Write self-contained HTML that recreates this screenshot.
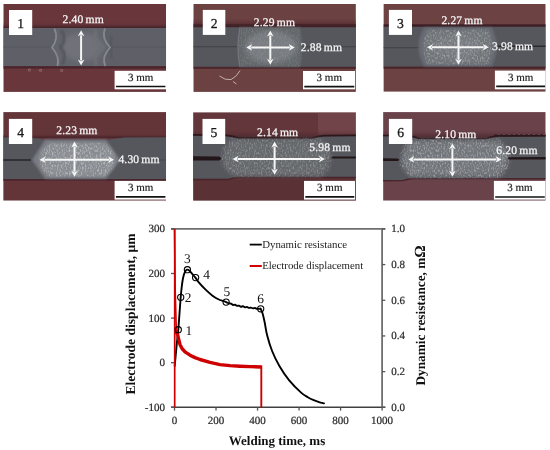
<!DOCTYPE html>
<html><head><meta charset="utf-8"><title>Weld nugget growth and dynamic resistance</title>
<style>html,body{margin:0;padding:0;background:#fff;width:550px;height:450px;overflow:hidden}svg{display:block}</style>
</head><body>
<svg width="550" height="450" viewBox="0 0 550 450" font-family="'Liberation Serif', 'Times New Roman', serif" text-rendering="geometricPrecision">
<rect width="550" height="450" fill="#fff"/>
<defs>
<filter id="grain" x="0" y="0" width="100%" height="100%" filterUnits="objectBoundingBox">
  <feTurbulence type="fractalNoise" baseFrequency="0.75 0.4" numOctaves="2" seed="3"/>
  <feColorMatrix type="matrix" values="0 0 0 0 0.9  0 0 0 0 0.91  0 0 0 0 0.93  3.0 0 0 0 -1.35"/>
  <feGaussianBlur stdDeviation="0.6"/>
</filter>
<filter id="soft" x="-20%" y="-20%" width="140%" height="140%">
  <feGaussianBlur stdDeviation="1.3"/>
</filter>
<filter id="soft05" x="-20%" y="-20%" width="140%" height="140%">
  <feGaussianBlur stdDeviation="0.5"/>
</filter>
<filter id="soft2" x="-20%" y="-20%" width="140%" height="140%">
  <feGaussianBlur stdDeviation="2.2"/>
</filter>
<filter id="grainD" x="0" y="0" width="100%" height="100%" filterUnits="objectBoundingBox">
  <feTurbulence type="fractalNoise" baseFrequency="0.7" numOctaves="2" seed="8"/>
  <feColorMatrix type="matrix" values="0 0 0 0 0  0 0 0 0 0  0 0 0 0 0  2.2 0 0 0 -1.05"/>
</filter>
<radialGradient id="nug2" cx="0.5" cy="0.5" r="0.5">
  <stop offset="0" stop-color="#a2a4ab"/>
  <stop offset="0.55" stop-color="#878991"/>
  <stop offset="1" stop-color="#5e5f68" stop-opacity="0"/>
</radialGradient>
<radialGradient id="nug3" cx="0.5" cy="0.5" r="0.5">
  <stop offset="0" stop-color="#a8aab1"/>
  <stop offset="0.7" stop-color="#989aa2"/>
  <stop offset="1" stop-color="#7d7f88"/>
</radialGradient>
<linearGradient id="topdark" x1="0" y1="0" x2="0" y2="1">
  <stop offset="0" stop-color="#6a363a" stop-opacity="0"/>
  <stop offset="1" stop-color="#3c1f25"/>
</linearGradient>
<clipPath id="cp0"><rect x="3.3" y="3.9" width="162.80" height="88.00"/></clipPath>
<clipPath id="cp1"><rect x="193.3" y="3.9" width="162.60" height="88.00"/></clipPath>
<clipPath id="cp2"><rect x="383.4" y="3.9" width="162.30" height="87.90"/></clipPath>
<clipPath id="cp3"><rect x="3.2" y="112.1" width="162.90" height="88.60"/></clipPath>
<clipPath id="cp4"><rect x="193.1" y="112.2" width="162.80" height="88.50"/></clipPath>
<clipPath id="cp5"><rect x="383.1" y="112.1" width="162.60" height="88.60"/></clipPath></defs>
<g clip-path="url(#cp0)"><rect x="3.3" y="3.9" width="162.79999999999998" height="88.0" fill="#69373b"/>
<rect x="3.3" y="22" width="162.79999999999998" height="6.2" fill="url(#topdark)"/>
<rect x="3.3" y="28" width="162.79999999999998" height="38.3" fill="#5f6067"/>
<rect x="3.3" y="66.2" width="162.79999999999998" height="2.4" fill="#4a262c"/>
<line x1="3.3" y1="47" x2="166.1" y2="47" stroke="#55565e" stroke-width="1"/>
<path d="M55,28.2 Q60,37 52.5,47 Q60,57 56,66.1 L104,66.1 Q100,57 110.5,47 Q100,37 105,28.2 Z" fill="#63656d"/>
<ellipse cx="82" cy="47" rx="20" ry="14" fill="#6f7179" filter="url(#soft2)"/>
<path d="M61,30 Q68,40 60,47 Q68,55 62,65" fill="none" stroke="#4e4f58" stroke-width="2.6" filter="url(#soft)" opacity="0.8"/>
<path d="M96,30 Q92,40 104,47 Q92,55 96,65" fill="none" stroke="#6e7078" stroke-width="4" filter="url(#soft)" opacity="0.8"/>
<path d="M112,36 L110,47 L112,58" fill="none" stroke="#50525c" stroke-width="3" filter="url(#soft)" opacity="0.6"/>
<g filter="url(#soft05)"><path d="M54.3,28.5 Q59,38 52,47.5 Q60,57 57.5,66" fill="none" stroke="#868890" stroke-width="1.8"/>
<path d="M105,28.5 Q101,38 110.1,47.5 Q101,57 105.4,66" fill="none" stroke="#868890" stroke-width="1.8"/></g>
<circle cx="29.4" cy="70.0" r="1.5" fill="#9a7478" opacity="0.8" filter="url(#soft05)"/><circle cx="29.4" cy="70.3" r="0.6" fill="#3c2226" opacity="0.7"/>
<circle cx="40.6" cy="70.2" r="1.5" fill="#9a7478" opacity="0.8" filter="url(#soft05)"/><circle cx="40.6" cy="70.5" r="0.6" fill="#3c2226" opacity="0.7"/>
<circle cx="61.7" cy="70.4" r="1.5" fill="#9a7478" opacity="0.8" filter="url(#soft05)"/><circle cx="61.7" cy="70.7" r="0.6" fill="#3c2226" opacity="0.7"/>
<line x1="81.1" y1="35.30" x2="81.1" y2="60.50" stroke="#f6f6f6" stroke-width="2.0"/><path d="M81.1,65.5 L77.80,59.50 L81.1,61.18 L84.40,59.50 Z" fill="#f6f6f6"/><path d="M81.1,30.3 L77.80,36.30 L81.1,34.62 L84.40,36.30 Z" fill="#f6f6f6"/>
<text x="62.6" y="22.7" font-size="11.6" fill="#f6f6f6" stroke="#f6f6f6" stroke-width="0.25" letter-spacing="0.15">2.40 <tspan dx="-1">mm</tspan></text>
<rect x="9" y="10" width="23.20" height="25.00" fill="#fff"/><text x="20.60" y="28.10" text-anchor="middle" font-size="13.6" fill="#1a1a1a" stroke="#1a1a1a" stroke-width="0.3">1</text>
<rect x="114.6" y="70.8" width="51.50" height="18.50" fill="#fff"/><line x1="115.90" y1="86.5" x2="165.40" y2="86.5" stroke="#111" stroke-width="1.7"/><text x="140.65" y="80.70" text-anchor="middle" font-size="11.0" fill="#1e1e1e" stroke="#1e1e1e" stroke-width="0.2">3 mm</text></g>
<g clip-path="url(#cp1)"><rect x="193.3" y="3.9" width="162.59999999999997" height="88.0" fill="#6b4141"/>
<rect x="193.3" y="18" width="162.59999999999997" height="9.5" fill="url(#topdark)"/>
<rect x="193.3" y="24" width="162.59999999999997" height="3.5" fill="#3c1f25" opacity="0.6"/>
<rect x="193.3" y="27.3" width="162.59999999999997" height="39.7" fill="#56565d"/>
<rect x="193.3" y="66.8" width="162.59999999999997" height="2" fill="#4a262c"/>
<line x1="193.3" y1="46.8" x2="355.9" y2="46.8" stroke="#40414a" stroke-width="1.1"/>
<path d="M240,27.5 Q236,47 240,66.8 L300,66.8 Q304,47 300,27.5 Z" fill="#64676b" filter="url(#soft)"/>
<ellipse cx="271" cy="47" rx="26" ry="16" fill="#787c80" filter="url(#soft2)"/>
<mask id="n2" maskUnits="userSpaceOnUse" x="0" y="0" width="550" height="450"><path d="M240,27.5 Q236,47 240,66.8 L300,66.8 Q304,47 300,27.5 Z" fill="#fff" filter="url(#soft)"/></mask>
<g mask="url(#n2)"><rect x="236" y="27" width="70" height="40" filter="url(#grain)" opacity="0.12"/></g>
<path d="M240,27.5 Q236,47 240,66.8" fill="none" stroke="#777982" stroke-width="1"/>
<path d="M219.5,76 Q225,80.5 231,79.6 Q237,76.5 240,70.6 M233,81.5 L236.5,84" fill="none" stroke="#e2d2d2" stroke-width="1" opacity="0.75" filter="url(#soft05)"/>
<line x1="251.20" y1="47.4" x2="289.80" y2="47.4" stroke="#f6f6f6" stroke-width="2.0"/><path d="M294.8,47.4 L288.80,44.10 L290.48,47.4 L288.80,50.70 Z" fill="#f6f6f6"/><path d="M246.2,47.4 L252.20,44.10 L250.52,47.4 L252.20,50.70 Z" fill="#f6f6f6"/>
<line x1="270.3" y1="35.40" x2="270.3" y2="59.70" stroke="#f6f6f6" stroke-width="2.0"/><path d="M270.3,64.7 L267.00,58.70 L270.3,60.38 L273.60,58.70 Z" fill="#f6f6f6"/><path d="M270.3,30.4 L267.00,36.40 L270.3,34.72 L273.60,36.40 Z" fill="#f6f6f6"/>
<text x="253.8" y="25.5" font-size="11.6" fill="#f6f6f6" stroke="#f6f6f6" stroke-width="0.25" letter-spacing="0.15">2.29 <tspan dx="-1">mm</tspan></text>
<text x="300.8" y="51.0" font-size="11.6" fill="#f6f6f6" stroke="#f6f6f6" stroke-width="0.25" letter-spacing="0.15">2.88 <tspan dx="-1">mm</tspan></text>
<rect x="202.8" y="9.9" width="22.50" height="25.00" fill="#fff"/><text x="214.05" y="28.00" text-anchor="middle" font-size="13.6" fill="#1a1a1a" stroke="#1a1a1a" stroke-width="0.3">2</text>
<rect x="303.0" y="71.0" width="52.00" height="18.30" fill="#fff"/><line x1="304.30" y1="86.7" x2="354.30" y2="86.7" stroke="#111" stroke-width="1.7"/><text x="329.30" y="80.90" text-anchor="middle" font-size="11.0" fill="#1e1e1e" stroke="#1e1e1e" stroke-width="0.2">3 mm</text></g>
<g clip-path="url(#cp2)"><rect x="383.4" y="3.9" width="162.30000000000007" height="87.89999999999999" fill="#6c4243"/>
<rect x="383.4" y="24.3" width="162.30000000000007" height="2.6" fill="#3c1f25"/>
<rect x="383.4" y="26.8" width="162.30000000000007" height="40" fill="#56565d"/>
<rect x="383.4" y="66.6" width="162.30000000000007" height="2.2" fill="#4a262c"/>
<line x1="383.4" y1="47.8" x2="420" y2="47.8" stroke="#40414a" stroke-width="1.1"/>
<line x1="498" y1="46.2" x2="545.7" y2="46.2" stroke="#2a2a30" stroke-width="1.5"/>
<path d="M424,27.5 L492,27.5 Q501,47 492,66.2 L424,66.2 Q413,47 424,27.5 Z" fill="#686a73" filter="url(#soft)"/>
<mask id="n3" maskUnits="userSpaceOnUse" x="0" y="0" width="550" height="450"><path d="M428,29 L488,29 Q496,47 488,65 L428,65 Q419,47 428,29 Z" fill="#fff" filter="url(#soft)"/></mask>
<path d="M428,30 L488,30 Q496,47 488,64 L428,64 Q419,47 428,30 Z" fill="#707478" filter="url(#soft)"/>
<ellipse cx="457" cy="47" rx="24" ry="11" fill="#787c80" filter="url(#soft2)"/>
<g mask="url(#n3)"><rect x="415" y="27" width="85" height="40" filter="url(#grain)" opacity="0.3"/></g>
<line x1="432.00" y1="47.2" x2="483.70" y2="47.2" stroke="#f6f6f6" stroke-width="2.0"/><path d="M488.7,47.2 L482.70,43.90 L484.38,47.2 L482.70,50.50 Z" fill="#f6f6f6"/><path d="M427.0,47.2 L433.00,43.90 L431.32,47.2 L433.00,50.50 Z" fill="#f6f6f6"/>
<line x1="458.5" y1="35.40" x2="458.5" y2="59.70" stroke="#f6f6f6" stroke-width="2.0"/><path d="M458.5,64.7 L455.20,58.70 L458.5,60.38 L461.80,58.70 Z" fill="#f6f6f6"/><path d="M458.5,30.4 L455.20,36.40 L458.5,34.72 L461.80,36.40 Z" fill="#f6f6f6"/>
<text x="441.4" y="23.6" font-size="11.6" fill="#f6f6f6" stroke="#f6f6f6" stroke-width="0.25" letter-spacing="0.15">2.27 <tspan dx="-1">mm</tspan></text>
<text x="492.0" y="50.4" font-size="11.6" fill="#f6f6f6" stroke="#f6f6f6" stroke-width="0.25" letter-spacing="0.15">3.98 <tspan dx="-1">mm</tspan></text>
<rect x="388.9" y="9.9" width="23.10" height="25.00" fill="#fff"/><text x="400.45" y="28.00" text-anchor="middle" font-size="13.6" fill="#1a1a1a" stroke="#1a1a1a" stroke-width="0.3">3</text>
<rect x="494.9" y="70.6" width="50.90" height="18.70" fill="#fff"/><line x1="496.20" y1="86.4" x2="545.10" y2="86.4" stroke="#111" stroke-width="1.7"/><text x="520.65" y="80.60" text-anchor="middle" font-size="11.0" fill="#1e1e1e" stroke="#1e1e1e" stroke-width="0.2">3 mm</text></g>
<g clip-path="url(#cp3)"><rect x="3.2" y="112.1" width="162.9" height="88.6" fill="#633539"/>
<path d="M3.2,133.5 L166.1,133.5 L166.1,137.8 L3.2,137.8 Z" fill="url(#topdark)"/>
<path d="M3.2,137.3 L30,137.8 L45,139.6 L110,139.6 L125,137.6 L166.1,137.3 L166.1,179 L3.2,179.3 Z" fill="#56565d"/>
<rect x="3.2" y="179" width="162.9" height="1.8" fill="#4a262c"/>
<line x1="3.2" y1="160" x2="31" y2="160" stroke="#25252a" stroke-width="1.4"/>
<line x1="120" y1="160" x2="166.1" y2="160" stroke="#474850" stroke-width="1.1"/>
<path d="M32,160 L45,139.8 L106,139.8 L120.5,160 L106,178.8 L45,178.8 Z" fill="#797b83" filter="url(#soft)"/>
<mask id="n4" maskUnits="userSpaceOnUse" x="0" y="0" width="550" height="450"><path d="M50,143 L104,143 Q115,150 114.5,159.5 Q115,169 104,176.5 L50,176.5 Q39,169 39.5,159.5 Q39,150 50,143 Z" fill="#fff" filter="url(#soft)"/></mask>
<path d="M50,143 L104,143 Q115,150 114.5,159.5 Q115,169 104,176.5 L50,176.5 Q39,169 39.5,159.5 Q39,150 50,143 Z" fill="#898d92" filter="url(#soft)"/>
<g mask="url(#n4)"><rect x="35" y="140" width="85" height="40" filter="url(#grain)" opacity="0.4"/></g>
<line x1="44.60" y1="159.8" x2="109.10" y2="159.8" stroke="#f6f6f6" stroke-width="2.0"/><path d="M114.1,159.8 L108.10,156.50 L109.78,159.8 L108.10,163.10 Z" fill="#f6f6f6"/><path d="M39.6,159.8 L45.60,156.50 L43.92,159.8 L45.60,163.10 Z" fill="#f6f6f6"/>
<line x1="74.5" y1="146.60" x2="74.5" y2="171.80" stroke="#f6f6f6" stroke-width="2.0"/><path d="M74.5,176.8 L71.20,170.80 L74.5,172.48 L77.80,170.80 Z" fill="#f6f6f6"/><path d="M74.5,141.6 L71.20,147.60 L74.5,145.92 L77.80,147.60 Z" fill="#f6f6f6"/>
<text x="56.2" y="134.0" font-size="11.6" fill="#f6f6f6" stroke="#f6f6f6" stroke-width="0.25" letter-spacing="0.15">2.23 <tspan dx="-1">mm</tspan></text>
<text x="118.4" y="162.6" font-size="11.6" fill="#f6f6f6" stroke="#f6f6f6" stroke-width="0.25" letter-spacing="0.15">4.30 <tspan dx="-1">mm</tspan></text>
<rect x="8.9" y="118.9" width="23.30" height="25.10" fill="#fff"/><text x="20.55" y="137.10" text-anchor="middle" font-size="13.6" fill="#1a1a1a" stroke="#1a1a1a" stroke-width="0.3">4</text>
<rect x="114.6" y="180.9" width="51.50" height="18.70" fill="#fff"/><line x1="115.90" y1="196.8" x2="165.40" y2="196.8" stroke="#111" stroke-width="1.7"/><text x="140.65" y="190.90" text-anchor="middle" font-size="11.0" fill="#1e1e1e" stroke="#1e1e1e" stroke-width="0.2">3 mm</text></g>
<g clip-path="url(#cp4)"><rect x="193.1" y="112.2" width="162.79999999999998" height="88.49999999999999" fill="#62363a"/>
<path d="M318,112.8 L355.9,112.8 L355.9,135 L318,135 Z" fill="#80525a" opacity="0.5"/>
<path d="M193.1,129 L355.9,129 L355.9,137 L193.1,137 Z" fill="url(#topdark)" opacity="0.6"/>
<path d="M193.1,135.6 L224,135.8 Q232,136.4 238,138.4 L312,138.7 Q318,137.1 324,136.3 L355.9,136.1 L355.9,176.9 L240,176.9 Q232,177.2 228,179.2 L193.1,179.3 Z" fill="#56565d"/>
<path d="M193.1,135.6 L224,135.8 Q232,136.4 238,138.4 L312,138.7 Q318,137.1 324,136.3 L355.9,136.1" fill="none" stroke="#2c181c" stroke-width="1.6" transform="translate(0,-0.7)"/>
<rect x="193.1" y="178" width="162.79999999999998" height="23" fill="#4e2a2e" opacity="0.35"/>
<path d="M193.1,179.8 L228,179.7 Q232,177.7 240,177.4 L355.9,177.4" fill="none" stroke="#4a262c" stroke-width="1.5"/>
<mask id="n5" maskUnits="userSpaceOnUse" x="0" y="0" width="550" height="450"><path d="M230,138.6 L322,138 Q334,150 331,158 Q334,168 322,177 L234,177 Q219,168 221,159 Q219,150 230,138.6 Z" fill="#fff" filter="url(#soft)"/></mask>
<path d="M231,140 L321,139.5 Q332,150 329,158 Q332,167 321,175.5 L235,175.5 Q222,167 223,159 Q222,150 231,140 Z" fill="#66696c" filter="url(#soft2)"/>
<g mask="url(#n5)"><rect x="215" y="136" width="125" height="45" filter="url(#grain)" opacity="0.25"/></g>
<path d="M193.1,156.3 L219,156.4 Q223.5,158.4 219,160.5 L193.1,160.5 Z" fill="#231618"/>
<path d="M355.9,156.4 L333,156.6 Q330,157.6 333,158.6 L355.9,158.6 Z" fill="#231618"/>
<line x1="237.50" y1="159.0" x2="319.90" y2="159.0" stroke="#f6f6f6" stroke-width="2.0"/><path d="M324.9,159.0 L318.90,155.70 L320.58,159.0 L318.90,162.30 Z" fill="#f6f6f6"/><path d="M232.5,159.0 L238.50,155.70 L236.82,159.0 L238.50,162.30 Z" fill="#f6f6f6"/>
<line x1="274.6" y1="146.60" x2="274.6" y2="169.80" stroke="#f6f6f6" stroke-width="2.0"/><path d="M274.6,174.8 L271.30,168.80 L274.6,170.48 L277.90,168.80 Z" fill="#f6f6f6"/><path d="M274.6,141.6 L271.30,147.60 L274.6,145.92 L277.90,147.60 Z" fill="#f6f6f6"/>
<text x="257.0" y="136.4" font-size="11.6" fill="#f6f6f6" stroke="#f6f6f6" stroke-width="0.25" letter-spacing="0.15">2.14 <tspan dx="-1">mm</tspan></text>
<text x="309.3" y="150.9" font-size="11.6" fill="#f6f6f6" stroke="#f6f6f6" stroke-width="0.25" letter-spacing="0.15">5.98 <tspan dx="-1">mm</tspan></text>
<rect x="202.5" y="118.9" width="22.70" height="25.10" fill="#fff"/><text x="213.85" y="137.10" text-anchor="middle" font-size="13.6" fill="#1a1a1a" stroke="#1a1a1a" stroke-width="0.3">5</text>
<rect x="304.0" y="180.9" width="51.00" height="18.70" fill="#fff"/><line x1="305.30" y1="196.9" x2="354.30" y2="196.9" stroke="#111" stroke-width="1.7"/><text x="329.80" y="191.00" text-anchor="middle" font-size="11.0" fill="#1e1e1e" stroke="#1e1e1e" stroke-width="0.2">3 mm</text></g>
<g clip-path="url(#cp5)"><rect x="383.1" y="112.1" width="162.60000000000002" height="88.6" fill="#69424a"/>
<path d="M383.1,129.5 L545.7,129.5 L545.7,137 L383.1,137 Z" fill="url(#topdark)" opacity="0.6"/>
<path d="M494,134.6 L545.7,134.2 L545.7,136.6 L494,136.8 Z" fill="#2e1a1e" opacity="0.8"/>
<path d="M498,134.9 L545.7,134.6" fill="none" stroke="#8a6a70" stroke-width="0.9" stroke-dasharray="2 3" opacity="0.7"/>
<path d="M383.1,136.2 L407,136.3 Q413,136.8 419,139 L486,139.1 Q492,137.2 498,136.6 L545.7,136.5 L545.7,178.2 L414,178.2 Q407,178.5 403,180.1 L383.1,180.2 Z" fill="#56565d"/>
<path d="M383.1,136.2 L407,136.3 Q413,136.8 419,139 L486,139.1 Q492,137.2 498,136.6 L545.7,136.5" fill="none" stroke="#2c181c" stroke-width="1.6" transform="translate(0,-0.7)"/>
<path d="M383.1,180.7 L403,180.6 Q407,179 414,178.8 L545.7,178.8" fill="none" stroke="#4a262c" stroke-width="1.4"/>
<mask id="n6" maskUnits="userSpaceOnUse" x="0" y="0" width="550" height="450"><path d="M410,139.5 L500,139 Q512,150 510,158.5 Q512,168 500,177.8 L410,177.8 Q398,168 400,159.5 Q398,150 410,139.5 Z" fill="#fff" filter="url(#soft)"/></mask>
<path d="M411,141 L499,140.5 Q509,150 508,158.5 Q509,167 499,176.5 L411,176.5 Q401,167 402,159.5 Q401,150 411,141 Z" fill="#72767a" filter="url(#soft2)"/>
<g mask="url(#n6)"><rect x="395" y="136" width="120" height="45" filter="url(#grain)" opacity="0.35"/></g>
<path d="M383.1,158.3 L397.5,158.4 Q401,159.7 397.5,161 L383.1,161 Z" fill="#231618"/>
<path d="M545.7,157.0 L509,157.2 Q506,158.3 509,159.4 L545.7,159.4 Z" fill="#231618"/>
<line x1="413.30" y1="159.4" x2="496.50" y2="159.4" stroke="#f6f6f6" stroke-width="2.0"/><path d="M501.5,159.4 L495.50,156.10 L497.18,159.4 L495.50,162.70 Z" fill="#f6f6f6"/><path d="M408.3,159.4 L414.30,156.10 L412.62,159.4 L414.30,162.70 Z" fill="#f6f6f6"/>
<line x1="452.4" y1="148.20" x2="452.4" y2="171.80" stroke="#f6f6f6" stroke-width="2.0"/><path d="M452.4,176.8 L449.10,170.80 L452.4,172.48 L455.70,170.80 Z" fill="#f6f6f6"/><path d="M452.4,143.2 L449.10,149.20 L452.4,147.52 L455.70,149.20 Z" fill="#f6f6f6"/>
<text x="435.2" y="137.7" font-size="11.6" fill="#f6f6f6" stroke="#f6f6f6" stroke-width="0.25" letter-spacing="0.15">2.10 <tspan dx="-1">mm</tspan></text>
<text x="496.3" y="153.9" font-size="11.6" fill="#f6f6f6" stroke="#f6f6f6" stroke-width="0.25" letter-spacing="0.15">6.20 <tspan dx="-1">mm</tspan></text>
<rect x="388.9" y="118.9" width="23.30" height="25.10" fill="#fff"/><text x="400.55" y="137.10" text-anchor="middle" font-size="13.6" fill="#1a1a1a" stroke="#1a1a1a" stroke-width="0.3">6</text>
<rect x="493.9" y="180.9" width="51.60" height="18.70" fill="#fff"/><line x1="495.20" y1="197.0" x2="544.80" y2="197.0" stroke="#111" stroke-width="1.7"/><text x="520.00" y="191.00" text-anchor="middle" font-size="11.0" fill="#1e1e1e" stroke="#1e1e1e" stroke-width="0.2">3 mm</text></g>
<line x1="171" y1="228.9" x2="385.3" y2="228.9" stroke="#6e6e6e" stroke-width="1.8"/>
<line x1="171" y1="407.3" x2="385.3" y2="407.3" stroke="#404040" stroke-width="1.4"/>
<line x1="382.1" y1="228.9" x2="382.1" y2="407.3" stroke="#6e6e6e" stroke-width="1.8"/>
<line x1="171" y1="228.90" x2="174.5" y2="228.90" stroke="#555" stroke-width="1.3"/>
<text x="165" y="232.30" text-anchor="end" font-size="11" fill="#2a2a2a" stroke="#2a2a2a" stroke-width="0.22">300</text>
<line x1="171" y1="273.50" x2="174.5" y2="273.50" stroke="#555" stroke-width="1.3"/>
<text x="165" y="276.90" text-anchor="end" font-size="11" fill="#2a2a2a" stroke="#2a2a2a" stroke-width="0.22">200</text>
<line x1="171" y1="318.10" x2="174.5" y2="318.10" stroke="#555" stroke-width="1.3"/>
<text x="165" y="321.50" text-anchor="end" font-size="11" fill="#2a2a2a" stroke="#2a2a2a" stroke-width="0.22">100</text>
<line x1="171" y1="362.70" x2="174.5" y2="362.70" stroke="#555" stroke-width="1.3"/>
<text x="165" y="366.10" text-anchor="end" font-size="11" fill="#2a2a2a" stroke="#2a2a2a" stroke-width="0.22">0</text>
<line x1="171" y1="407.30" x2="174.5" y2="407.30" stroke="#555" stroke-width="1.3"/>
<text x="165" y="410.70" text-anchor="end" font-size="11" fill="#2a2a2a" stroke="#2a2a2a" stroke-width="0.22">-100</text>
<line x1="382.1" y1="407.30" x2="385.3" y2="407.30" stroke="#555" stroke-width="1.3"/>
<text x="391.3" y="410.70" font-size="11" fill="#2a2a2a" stroke="#2a2a2a" stroke-width="0.22">0.0</text>
<line x1="382.1" y1="371.62" x2="385.3" y2="371.62" stroke="#555" stroke-width="1.3"/>
<text x="391.3" y="375.02" font-size="11" fill="#2a2a2a" stroke="#2a2a2a" stroke-width="0.22">0.2</text>
<line x1="382.1" y1="335.94" x2="385.3" y2="335.94" stroke="#555" stroke-width="1.3"/>
<text x="391.3" y="339.34" font-size="11" fill="#2a2a2a" stroke="#2a2a2a" stroke-width="0.22">0.4</text>
<line x1="382.1" y1="300.26" x2="385.3" y2="300.26" stroke="#555" stroke-width="1.3"/>
<text x="391.3" y="303.66" font-size="11" fill="#2a2a2a" stroke="#2a2a2a" stroke-width="0.22">0.6</text>
<line x1="382.1" y1="264.58" x2="385.3" y2="264.58" stroke="#555" stroke-width="1.3"/>
<text x="391.3" y="267.98" font-size="11" fill="#2a2a2a" stroke="#2a2a2a" stroke-width="0.22">0.8</text>
<line x1="382.1" y1="228.90" x2="385.3" y2="228.90" stroke="#555" stroke-width="1.3"/>
<text x="391.3" y="232.30" font-size="11" fill="#2a2a2a" stroke="#2a2a2a" stroke-width="0.22">1.0</text>
<line x1="174.50" y1="407.3" x2="174.50" y2="410.6" stroke="#555" stroke-width="1.3"/>
<text x="174.50" y="423.6" text-anchor="middle" font-size="11" fill="#2a2a2a" stroke="#2a2a2a" stroke-width="0.22">0</text>
<line x1="216.02" y1="407.3" x2="216.02" y2="410.6" stroke="#555" stroke-width="1.3"/>
<text x="216.02" y="423.6" text-anchor="middle" font-size="11" fill="#2a2a2a" stroke="#2a2a2a" stroke-width="0.22">200</text>
<line x1="257.54" y1="407.3" x2="257.54" y2="410.6" stroke="#555" stroke-width="1.3"/>
<text x="257.54" y="423.6" text-anchor="middle" font-size="11" fill="#2a2a2a" stroke="#2a2a2a" stroke-width="0.22">400</text>
<line x1="299.06" y1="407.3" x2="299.06" y2="410.6" stroke="#555" stroke-width="1.3"/>
<text x="299.06" y="423.6" text-anchor="middle" font-size="11" fill="#2a2a2a" stroke="#2a2a2a" stroke-width="0.22">600</text>
<line x1="340.58" y1="407.3" x2="340.58" y2="410.6" stroke="#555" stroke-width="1.3"/>
<text x="340.58" y="423.6" text-anchor="middle" font-size="11" fill="#2a2a2a" stroke="#2a2a2a" stroke-width="0.22">800</text>
<line x1="382.10" y1="407.3" x2="382.10" y2="410.6" stroke="#555" stroke-width="1.3"/>
<text x="382.10" y="423.6" text-anchor="middle" font-size="11" fill="#2a2a2a" stroke="#2a2a2a" stroke-width="0.22">1000</text>
<text transform="translate(134.6,314) rotate(-90)" text-anchor="middle" font-size="13.6" font-weight="bold" fill="#111">Electrode displacement, μm</text>
<text transform="translate(424.7,315.4) rotate(-90)" text-anchor="middle" font-size="13.3" font-weight="bold" fill="#111">Dynamic resistance, m<tspan font-size="15.5">Ω</tspan></text>
<text x="277" y="445" text-anchor="middle" font-size="13" font-weight="bold" fill="#111">Welding time, ms</text>
<line x1="249.7" y1="244.6" x2="261.8" y2="244.6" stroke="#000" stroke-width="1.8"/>
<text x="262.2" y="248" font-size="10.8" fill="#222">Dynamic resistance</text>
<line x1="249.7" y1="266.0" x2="261.8" y2="266.0" stroke="#d40000" stroke-width="2"/>
<text x="262.2" y="269.3" font-size="10.8" fill="#222">Electrode displacement</text>
<path d="M174.70,366.00 C174.95,363.33 175.78,354.33 176.20,350.00 C176.62,345.67 176.85,343.38 177.20,340.00 C177.55,336.62 177.90,334.37 178.30,329.70 C178.70,325.03 179.20,317.40 179.60,312.00 C180.00,306.60 180.37,301.30 180.70,297.30 C181.03,293.30 181.28,290.80 181.60,288.00 C181.92,285.20 182.23,282.67 182.60,280.50 C182.97,278.33 183.35,276.53 183.80,275.00 C184.25,273.47 184.72,272.20 185.30,271.30 C185.88,270.40 186.60,269.68 187.30,269.60 C188.00,269.52 188.72,270.13 189.50,270.80 C190.28,271.47 190.98,272.43 192.00,273.60 C193.02,274.77 194.43,276.30 195.60,277.80 C196.77,279.30 197.33,280.63 199.00,282.60 C200.67,284.57 203.40,287.47 205.60,289.60 C207.80,291.73 210.17,293.83 212.20,295.40 C214.23,296.97 215.48,297.88 217.80,299.00 C220.12,300.12 224.23,301.37 226.10,302.10 C227.97,302.83 228.18,303.15 229.00,303.40 C229.82,303.65 230.33,303.33 231.00,303.60 C231.67,303.87 232.33,304.80 233.00,305.00 C233.67,305.20 234.33,304.65 235.00,304.80 C235.67,304.95 236.33,305.77 237.00,305.90 C237.67,306.03 238.33,305.47 239.00,305.60 C239.67,305.73 240.33,306.58 241.00,306.70 C241.67,306.82 242.33,306.18 243.00,306.30 C243.67,306.42 244.33,307.28 245.00,307.40 C245.67,307.52 246.33,306.92 247.00,307.00 C247.67,307.08 248.33,307.80 249.00,307.90 C249.67,308.00 250.33,307.52 251.00,307.60 C251.67,307.68 252.33,308.33 253.00,308.40 C253.67,308.47 254.33,307.93 255.00,308.00 C255.67,308.07 256.05,308.67 257.00,308.80 C257.95,308.93 260.08,308.80 260.70,308.80 M260.70,308.80 C261.02,309.58 261.95,311.30 262.60,313.50 C263.25,315.70 263.83,318.33 264.60,322.00 C265.37,325.67 265.95,330.67 267.20,335.50 C268.45,340.33 270.07,345.92 272.10,351.00 C274.13,356.08 276.55,361.10 279.40,366.00 C282.25,370.90 285.58,375.97 289.20,380.40 C292.82,384.83 298.00,389.80 301.10,392.60 C304.20,395.40 305.70,395.93 307.80,397.20 C309.90,398.47 311.83,399.37 313.70,400.20 C315.57,401.03 317.28,401.67 319.00,402.20 C320.72,402.73 323.17,403.20 324.00,403.40" fill="none" stroke="#000" stroke-width="1.9" stroke-linejoin="round" stroke-linecap="round"/>
<line x1="174.7" y1="228.9" x2="174.7" y2="407.3" stroke="#cf0000" stroke-width="1.7"/>
<path d="M174.5,228.9 L175.2,290 L176.4,334" fill="none" stroke="#cf0000" stroke-width="1.6"/>
<path d="M175.6,334.0 L176.6,332.5 L177.6,334.5 L178.6,339.0 L180.0,344.5 L182.0,348.5 L185.0,351.8 L190.0,355.2 L195.0,357.6 L200.0,359.5 L210.0,362.4 L220.0,364.6 L230.0,365.6 L240.0,366.2 L250.0,366.6 L261.0,367.0" fill="none" stroke="#cf0000" stroke-width="3.4" stroke-linejoin="round"/>
<line x1="261.3" y1="365.4" x2="261.3" y2="407.3" stroke="#cf0000" stroke-width="1.9"/>
<circle cx="178.3" cy="329.7" r="3.1" fill="none" stroke="#000" stroke-width="1.1"/>
<text x="185.4" y="335.0" font-size="13.4" fill="#111">1</text>
<circle cx="180.7" cy="297.3" r="3.1" fill="none" stroke="#000" stroke-width="1.1"/>
<text x="184.8" y="301.5" font-size="13.4" fill="#111">2</text>
<circle cx="187.4" cy="269.7" r="3.1" fill="none" stroke="#000" stroke-width="1.1"/>
<text x="184.0" y="263.0" font-size="13.4" fill="#111">3</text>
<circle cx="195.6" cy="277.6" r="3.1" fill="none" stroke="#000" stroke-width="1.1"/>
<text x="203.3" y="279.0" font-size="13.4" fill="#111">4</text>
<circle cx="226.1" cy="302.1" r="3.1" fill="none" stroke="#000" stroke-width="1.1"/>
<text x="223.6" y="295.5" font-size="13.4" fill="#111">5</text>
<circle cx="260.7" cy="308.8" r="3.1" fill="none" stroke="#000" stroke-width="1.1"/>
<text x="257.3" y="303.2" font-size="13.4" fill="#111">6</text>
</svg>
</body></html>
